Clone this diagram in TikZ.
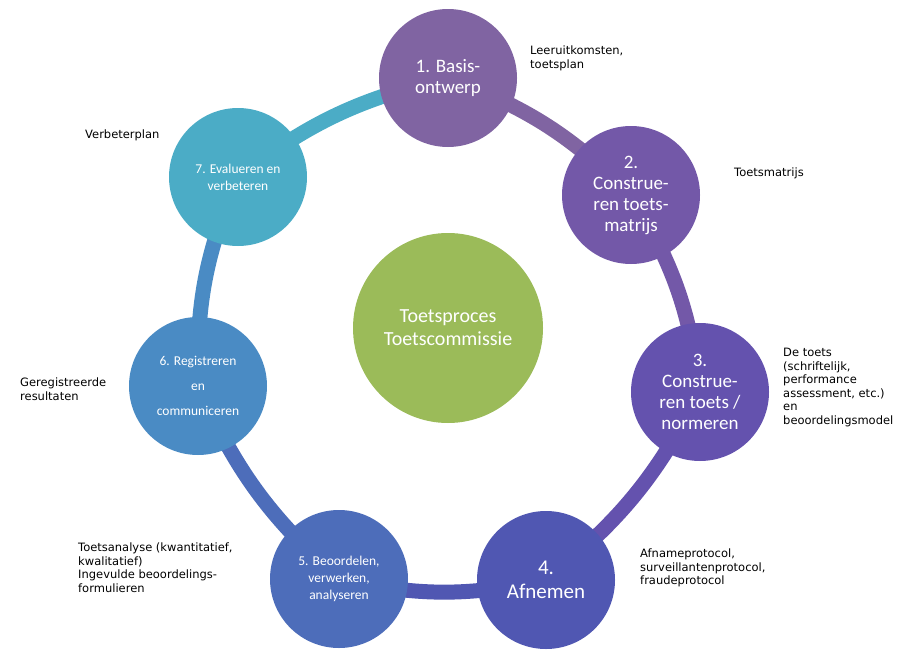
\documentclass[tikz,border=0pt]{standalone}
\usepackage{fontspec}
\setmainfont{Carlito}
\newfontfamily\lab{DejaVu Sans}
\begin{document}
\begin{tikzpicture}[x=1pt,y=-1pt,
  stage/.style={circle,minimum size=138pt,inner sep=0pt,text=white,align=center,font=\fontsize{19}{21}\selectfont},
  small/.style={font=\fontsize{13.5}{17}\selectfont},
  note/.style={anchor=north west,align=left,font=\lab\fontsize{11.5}{13.5}\selectfont,inner sep=0pt},
  bar/.style={line width=15pt}]
\useasboundingbox (0,0) rectangle (910,653);
\definecolor{c1}{HTML}{8064A2}\definecolor{c2}{HTML}{7358A8}\definecolor{c3}{HTML}{6452AE}
\definecolor{c4}{HTML}{5057B2}\definecolor{c5}{HTML}{4D6DBA}\definecolor{c6}{HTML}{4A8BC4}
\definecolor{c7}{HTML}{4BACC6}\definecolor{cg}{HTML}{9BBB59}
\coordinate (p1) at (448,78);\coordinate (p2) at (631,195);\coordinate (p3) at (700,392);
\coordinate (p4) at (546,580);\coordinate (p5) at (339,579);\coordinate (p6) at (198,386);
\coordinate (p7) at (238,177);
\draw[bar,c1] (p1) to[bend left=12] (p2);\draw[bar,c2] (p2) to[bend left=12] (p3);\draw[bar,c3] (p3) to[bend left=12] (p4);
\draw[bar,c4] (p4) to[bend left=12] (p5);\draw[bar,c5] (p5) to[bend left=12] (p6);\draw[bar,c6] (p6) to[bend left=12] (p7);
\draw[bar,c7] (p7) to[bend left=12] (p1);
\node[stage,fill=c1] (n1) at (p1) {1. Basis-\\ontwerp};
\node[stage,fill=c2] (n2) at (p2) {2.\\Construe-\\ren toets-\\matrijs};
\node[stage,fill=c3] (n3) at (p3) {3.\\Construe-\\ren toets /\\normeren};
\node[stage,fill=c4,font=\fontsize{21}{24}\selectfont] (n4) at (p4) {4.\\Afnemen};
\node[stage,fill=c5,small] (n5) at (p5) {5. Beoordelen,\\verwerken,\\analyseren};
\node[stage,fill=c6,small,font=\fontsize{13.5}{25}\selectfont] (n6) at (p6) {6. Registreren\\en\\communiceren};
\node[stage,fill=c7,small] (n7) at (p7) {7. Evalueren en\\verbeteren};
\node[circle,fill=cg,minimum size=190pt,text=white,align=center,font=\fontsize{20}{23}\selectfont] (c) at (448,328) {Toetsproces\\Toetscommissie};
\node[note] (l1) at (530,46) {Leeruitkomsten,\\toetsplan};
\node[note] (l2) at (734,168) {Toetsmatrijs};
\node[note] (l3) at (783,348) {De toets\\(schriftelijk,\\performance\\assessment, etc.)\\en\\beoordelingsmodel};
\node[note] (l4) at (640,549) {Afnameprotocol,\\surveillantenprotocol,\\fraudeprotocol};
\node[note] (l5) at (78,543) {Toetsanalyse (kwantitatief,\\kwalitatief)\\Ingevulde beoordelings-\\formulieren};
\node[note] (l6) at (20,378) {Geregistreerde\\resultaten};
\node[note] (l7) at (85,130) {Verbeterplan};
\end{tikzpicture}
\end{document}
